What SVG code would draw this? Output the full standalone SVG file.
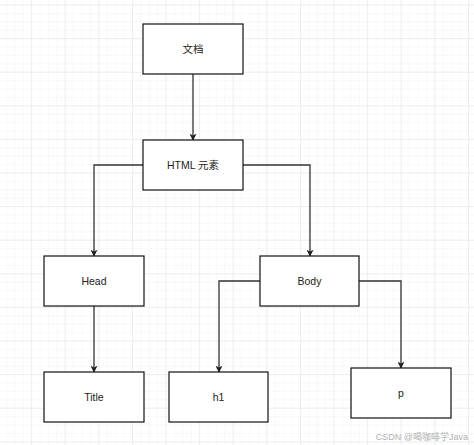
<svg xmlns="http://www.w3.org/2000/svg" width="474" height="445" viewBox="0 0 474 445">
  <defs>
    <pattern id="minor" patternUnits="userSpaceOnUse" x="-1.5" y="5.5" width="8.4" height="8.4">
      <path d="M8.4 0V8.4M0 8.4H8.4" fill="none" stroke="#f2f2f2" stroke-width="1"/>
    </pattern>
    <pattern id="major" patternUnits="userSpaceOnUse" x="-1.5" y="5.5" width="33.6" height="33.6">
      <path d="M33.6 0V33.6M0 33.6H33.6" fill="none" stroke="#e4e4e4" stroke-width="1"/>
    </pattern>
    <marker id="arrow" viewBox="0 0 10 10" refX="9" refY="5" markerWidth="7" markerHeight="7" markerUnits="userSpaceOnUse" orient="auto">
      <path d="M0 0L10 5L0 10L2.5 5Z" fill="#222"/>
    </marker>
  </defs>
  <style>
    .box { fill: #ffffff; stroke: #111; stroke-width: 1.2; }
    .lbl { font-family: "Liberation Sans", "Noto Sans CJK SC", sans-serif; font-size: 10.5px; fill: #222; text-anchor: middle; dominant-baseline: central; }
    .edge { fill: none; stroke: #333; stroke-width: 1.3; marker-end: url(#arrow); }
    .wm { font-family: "Liberation Sans", "Noto Sans CJK SC", sans-serif; font-size: 9px; fill: #b0b0b0; text-anchor: end; }
  </style>
  <rect width="474" height="445" fill="#ffffff"/>
  <rect width="474" height="445" fill="url(#minor)"/>
  <rect width="474" height="445" fill="url(#major)"/>

  <g id="connectors">
    <path class="edge" d="M193 74V140"/>
    <path class="edge" d="M143 165H94V256"/>
    <path class="edge" d="M243 165H310V256"/>
    <path class="edge" d="M94 306V372"/>
    <path class="edge" d="M260 281H219V372"/>
    <path class="edge" d="M359 281H401V368"/>
  </g>

  <g id="node-doc">
    <rect class="box" x="143" y="24" width="100" height="50"/>
    <text class="lbl" x="193" y="49">文档</text>
  </g>
  <g id="node-html">
    <rect class="box" x="143" y="140" width="100" height="50"/>
    <text class="lbl" x="193" y="165">HTML 元素</text>
  </g>
  <g id="node-head">
    <rect class="box" x="44" y="256" width="100" height="50"/>
    <text class="lbl" x="94" y="281">Head</text>
  </g>
  <g id="node-body">
    <rect class="box" x="260" y="256" width="99" height="50"/>
    <text class="lbl" x="309.5" y="281">Body</text>
  </g>
  <g id="node-title">
    <rect class="box" x="44" y="372" width="100" height="50"/>
    <text class="lbl" x="94" y="397">Title</text>
  </g>
  <g id="node-h1">
    <rect class="box" x="169" y="372" width="99" height="50"/>
    <text class="lbl" x="218.5" y="397">h1</text>
  </g>
  <g id="node-p">
    <rect class="box" x="351" y="368" width="100" height="50"/>
    <text class="lbl" x="401" y="393">p</text>
  </g>

  <text class="wm" x="468" y="440">CSDN @喝咖啡学Java</text>
</svg>
